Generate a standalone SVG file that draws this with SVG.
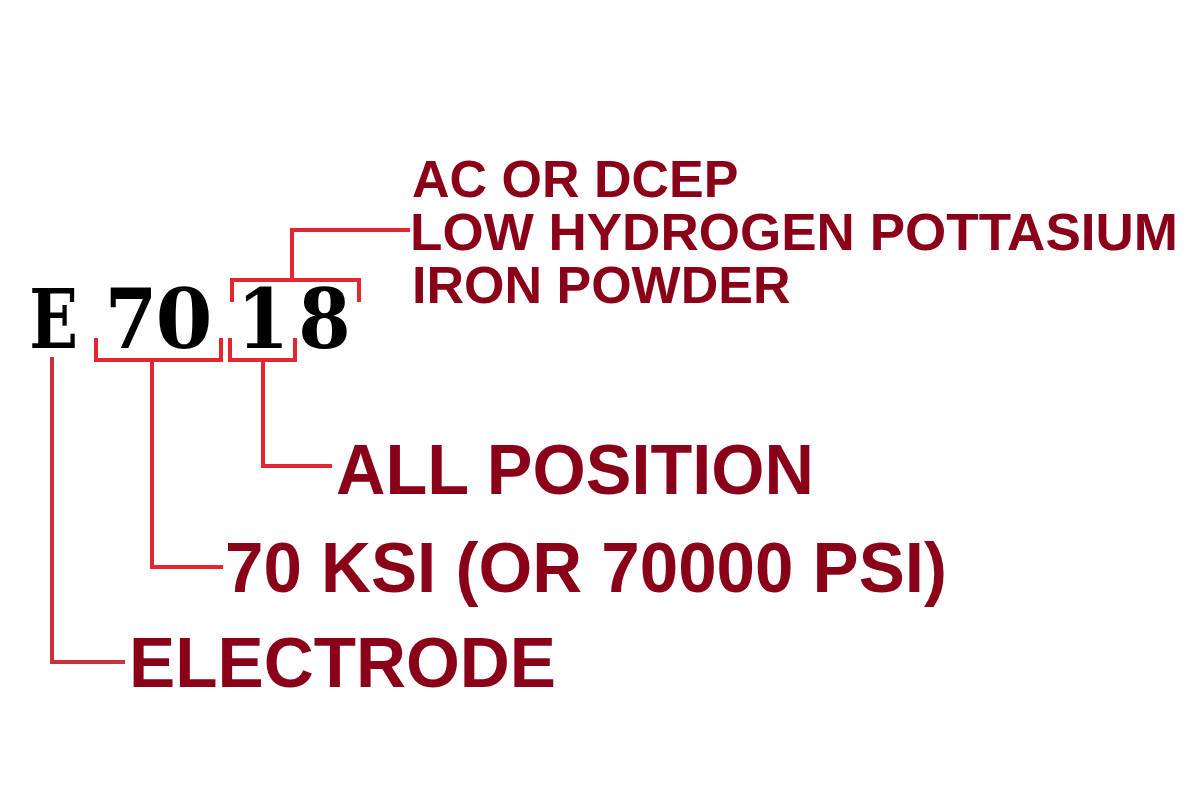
<svg xmlns="http://www.w3.org/2000/svg" width="1200" height="800" viewBox="0 0 1200 800">
  <style>
    .code { font-family: "DejaVu Serif", "Liberation Serif", serif; font-weight: bold; font-size: 82px; fill: #000; text-anchor: middle; }
    .lbl { font-family: "Liberation Sans", Arial, sans-serif; font-weight: bold; fill: #8a0019; }
    .small { font-size: 52px; }
    .big { font-size: 70px; }
    .ln { fill: none; stroke: #e5262e; stroke-width: 4; stroke-linejoin: miter; stroke-linecap: butt; }
    .ln2 { fill: none; stroke: #c9323a; stroke-width: 4; }
  </style>
  <rect width="1200" height="800" fill="#ffffff"/>
  <g id="code">
    <text class="code" transform="translate(53.5,348) scale(0.78,1)" x="0" y="0">E</text>
    <text class="code" transform="translate(131,348) scale(0.92,1)" x="0" y="0">7</text>
    <text class="code" x="184" y="348">0</text>
    <text class="code" transform="translate(263,348) scale(0.92,1)" x="0" y="0">1</text>
    <text class="code" transform="translate(324.5,348) scale(0.92,1)" x="0" y="0">8</text>
  </g>
  <g id="connectors">
    <polyline class="ln" points="232,302 232,280 359,280 359,302"/>
    <polyline class="ln" points="292,280 292,230 410,230"/>
    <polyline class="ln" points="96,338 96,360 221,360 221,338"/>
    <polyline class="ln" points="152,360 152,567 223,567"/>
    <polyline class="ln" points="230,338 230,360 295,360 295,338"/>
    <polyline class="ln" points="263,360 263,466 332,466"/>
    <polyline class="ln2" points="52,357 52,662 125,662"/>
  </g>
  <g id="label-coating">
    <text class="lbl small" x="412" y="197">AC OR DCEP</text>
    <text class="lbl small" x="410" y="250" textLength="768" lengthAdjust="spacingAndGlyphs">LOW HYDROGEN POTTASIUM</text>
    <text class="lbl small" x="412" y="303">IRON POWDER</text>
  </g>
  <g id="label-position">
    <text class="lbl big" x="336" y="494" textLength="478" lengthAdjust="spacingAndGlyphs">ALL POSITION</text>
  </g>
  <g id="label-strength">
    <text class="lbl big" x="225" y="592" textLength="722" lengthAdjust="spacingAndGlyphs">70 KSI (OR 70000 PSI)</text>
  </g>
  <g id="label-electrode">
    <text class="lbl big" x="129" y="687" textLength="427" lengthAdjust="spacingAndGlyphs">ELECTRODE</text>
  </g>
</svg>
